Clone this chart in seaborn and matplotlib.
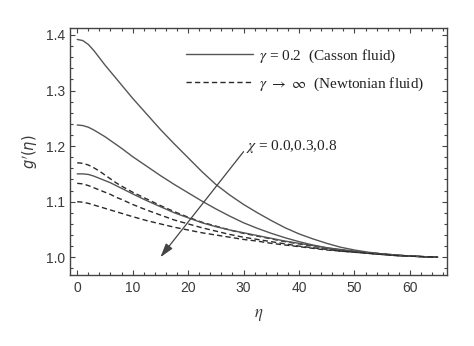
import numpy as np
import pandas as pd
import matplotlib
matplotlib.use("Agg")
import matplotlib.pyplot as plt
from matplotlib.lines import Line2D
from matplotlib.ticker import MultipleLocator
import seaborn as sns

# similarity variable
eta = [0, 1, 2, 3, 4, 5, 6, 7, 8, 10, 12.5, 15, 17.5, 20, 22.5, 25, 27.5, 30,
       32.5, 35, 37.5, 40, 42.5, 45, 47.5, 50, 52.5, 55, 57.5, 60, 62.5, 65]

# Casson fluid (gamma = 0.2), chi = 0.0, 0.3, 0.8
casson_chi00 = [1.392, 1.390, 1.383, 1.372, 1.359, 1.346, 1.334, 1.322, 1.310, 1.286,
                1.258, 1.230, 1.204, 1.179, 1.154, 1.131, 1.112, 1.095, 1.080, 1.066,
                1.053, 1.042, 1.033, 1.025, 1.018, 1.013, 1.009, 1.006, 1.004, 1.002,
                1.001, 1.000]
casson_chi03 = [1.238, 1.237, 1.234, 1.229, 1.223, 1.217, 1.210, 1.203, 1.196, 1.181,
                1.164, 1.147, 1.131, 1.116, 1.101, 1.087, 1.074, 1.062, 1.052, 1.043,
                1.035, 1.028, 1.022, 1.017, 1.013, 1.010, 1.007, 1.005, 1.003, 1.002,
                1.001, 1.000]
casson_chi08 = [1.150, 1.150, 1.149, 1.146, 1.142, 1.138, 1.134, 1.129, 1.124, 1.114,
                1.102, 1.091, 1.080, 1.071, 1.062, 1.055, 1.049, 1.044, 1.039, 1.034,
                1.029, 1.025, 1.021, 1.017, 1.014, 1.011, 1.008, 1.006, 1.004, 1.002,
                1.001, 1.000]

# Newtonian fluid (gamma -> infinity), chi = 0.0, 0.3, 0.8
newton_chi00 = [1.170, 1.169, 1.166, 1.161, 1.155, 1.148, 1.141, 1.134, 1.128, 1.117,
                1.105, 1.093, 1.082, 1.072, 1.063, 1.056, 1.049, 1.043, 1.038, 1.033,
                1.028, 1.024, 1.020, 1.016, 1.013, 1.010, 1.008, 1.006, 1.004, 1.002,
                1.001, 1.000]
newton_chi03 = [1.133, 1.132, 1.129, 1.125, 1.121, 1.117, 1.113, 1.108, 1.104, 1.095,
                1.085, 1.076, 1.067, 1.060, 1.053, 1.047, 1.041, 1.036, 1.032, 1.028,
                1.024, 1.020, 1.017, 1.014, 1.011, 1.009, 1.007, 1.005, 1.003, 1.002,
                1.001, 1.000]
newton_chi08 = [1.100, 1.099, 1.097, 1.094, 1.091, 1.088, 1.085, 1.082, 1.079, 1.073,
                1.066, 1.060, 1.054, 1.049, 1.044, 1.040, 1.036, 1.032, 1.029, 1.025,
                1.022, 1.019, 1.016, 1.013, 1.011, 1.009, 1.007, 1.005, 1.003, 1.002,
                1.001, 1.000]

legend_labels = [r"$\gamma$ = 0.2  (Casson fluid)",
                 r"$\gamma$ $\rightarrow$ $\infty$  (Newtonian fluid)"]
chi_label = r"$\chi$ = 0.0,0.3,0.8"
x_ticks = [0, 10, 20, 30, 40, 50, 60]
y_ticks = [1.0, 1.1, 1.2, 1.3, 1.4]

sns.set_style("ticks")
plt.rcParams["mathtext.fontset"] = "stix"
plt.rcParams["font.family"] = ["Liberation Sans", "DejaVu Sans"]

rows = []
for fluid, series in (("casson", [casson_chi00, casson_chi03, casson_chi08]),
                      ("newton", [newton_chi00, newton_chi03, newton_chi08])):
    for chi, vals in zip(["0.0", "0.3", "0.8"], series):
        for e, v in zip(eta, vals):
            rows.append({"eta": e, "g": v, "fluid": fluid, "chi": chi})
df = pd.DataFrame(rows)

fig = plt.figure(figsize=(4.74, 3.46), dpi=100)
ax = fig.add_axes([0.1477, 0.2052, 0.7954, 0.7139])

solid_col = "#555555"
dash_col = "#2a2a2a"
dash_pat = (0, (3.8, 2.3))
for chi in ["0.0", "0.3", "0.8"]:
    sub = df[(df.fluid == "casson") & (df.chi == chi)]
    sns.lineplot(data=sub, x="eta", y="g", ax=ax, color=solid_col, lw=1.0,
                 legend=False)
    sub = df[(df.fluid == "newton") & (df.chi == chi)]
    sns.lineplot(data=sub, x="eta", y="g", ax=ax, color=dash_col, lw=1.0,
                 dashes=False, legend=False, linestyle=dash_pat)

ax.set_xlim(-1.3, 66.7)
ax.set_ylim(0.968, 1.4126)
ax.set_xticks(x_ticks)
ax.set_yticks(y_ticks)
ax.set_yticklabels([f"{t:.1f}" for t in y_ticks])
ax.xaxis.set_minor_locator(MultipleLocator(2))
ax.yaxis.set_minor_locator(MultipleLocator(0.02))

spine_col = "#444444"
for s in ax.spines.values():
    s.set_visible(True)
    s.set_color(spine_col)
    s.set_linewidth(1.0)
ax.tick_params(which="both", direction="in", top=True, right=True,
               color=spine_col, width=0.8, labelcolor="#3a3a3a", labelsize=10)
ax.tick_params(which="major", length=3.4)
ax.tick_params(which="minor", length=2.0)
ax.tick_params(axis="x", pad=4.0)
ax.tick_params(axis="y", pad=3.5)

ax.set_xlabel(r"$\eta$", fontsize=12, color="#3a3a3a", labelpad=9)
ax.set_ylabel(r"$g'(\eta)$", fontsize=10.5, color="#3a3a3a", labelpad=4,
              math_fontfamily="dejavusans")

handles = [Line2D([], [], color=solid_col, lw=1.0),
           Line2D([], [], color=dash_col, lw=1.0, linestyle=dash_pat)]
leg = ax.legend(handles, legend_labels, loc="upper left",
                bbox_to_anchor=(0.288, 0.952), frameon=False, borderpad=0,
                handlelength=4.4, handletextpad=0.35, labelspacing=0.7,
                prop={"family": "Liberation Serif", "size": 11})
for t in leg.get_texts():
    t.set_color("#222222")

ax.annotate("", xy=(15, 1.0), xytext=(30, 1.19),
            arrowprops=dict(arrowstyle="-|>,head_length=0.6,head_width=0.18",
                            color="#444444", lw=0.9, mutation_scale=14,
                            shrinkA=0, shrinkB=0))
ax.text(30.4, 1.199, chi_label, fontsize=11, family="Liberation Serif",
        color="#222222", va="center", ha="left")

fig.savefig("out.png", dpi=100, facecolor="white")
